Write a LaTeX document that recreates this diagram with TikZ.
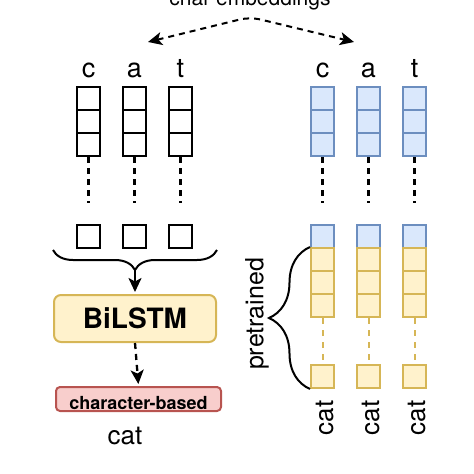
\documentclass[tikz,border=0pt]{standalone}
\usepackage{fontspec}
\setmainfont{TeX Gyre Heros}
\usetikzlibrary{arrows.meta,decorations.pathreplacing}

\definecolor{embFill}{HTML}{DAE8FC}
\definecolor{embLine}{HTML}{6C8EBF}
\definecolor{preFill}{HTML}{FFF2CC}
\definecolor{preLine}{HTML}{D6B656}
\definecolor{outFill}{HTML}{F8CECC}
\definecolor{outLine}{HTML}{B85450}
\newcommand{\pxfont}[1]{\fontsize{#1}{#1}\selectfont}

\begin{document}
\begin{tikzpicture}[x=1pt,y=-1pt,>={Stealth[length=14pt,width=13pt,inset=3.5pt]},
                    cell/.style={draw,minimum size=23pt,inner sep=0pt,line width=2.3pt},
                    emb cell/.style={cell,draw=embLine,fill=embFill,line width=2pt},
                    pre cell/.style={cell,draw=preLine,fill=preFill,line width=2pt},
                    letter/.style={anchor=base,font=\pxfont{27}},
                    dash line/.style={line width=2.3pt,dash pattern=on 6pt off 5pt},
                    curly/.style={decorate,line width=2pt,decoration={brace,amplitude=#1}}]
  \useasboundingbox (0,0) rectangle (474,474);
  \node[anchor=base,font=\pxfont{21}] (title) at (250,5) {char embeddings};
  \coordinate (peak) at (250,17);
  \coordinate (embL) at (148,42);
  \coordinate (embR) at (354,42);
  \draw[<->,line width=2pt,dash pattern=on 6pt off 5pt,rounded corners=10pt]
    (embL) -- (peak) -- (embR);
  % character based side
  \foreach \col/\x/\ch in {1/88.5/c,2/134.5/a,3/180.5/t}{
    \node[letter] (lchar\col) at (\x,77) {\ch};
    \foreach \row/\y in {1/98.5,2/121.5,3/144.5}
      \node[cell] (l\col-\row) at (\x,\y) {};
    \node[cell] (lbot\col) at (\x,236.5) {};
    \draw[dash line,shorten >=21pt] (l\col-3.south) -- (lbot\col.north);
  }
  \draw[curly=20pt,decoration={mirror}] (53,250) -- (217,250);
  \coordinate (braceTip) at (135,269);
  \node[draw=preLine,fill=preFill,rounded corners=7pt,line width=2pt,
        minimum width=162pt,minimum height=47pt,font=\pxfont{28}\bfseries] (bilstm) at (135,318.5) {BiLSTM};
  \node[draw=outLine,fill=outFill,rounded corners=4pt,line width=2pt,inner sep=0pt,
        minimum width=165pt,minimum height=24pt,text height=21pt,text depth=0pt,
        font=\pxfont{18}\bfseries] (charbased) at (138.5,399) {character-based};
  \draw[->,line width=2.3pt,shorten >=2pt] (braceTip) -- (bilstm.north);
  \draw[->,dash line,shorten >=2pt] (bilstm.south) -- (charbased.north);
  \node[font=\pxfont{26}] (catL) at (125,436) {cat};
  \node[anchor=base,font=\pxfont{22}] (dotsL) at (107,477) {...};
  % pretrained side
  \foreach \col/\x/\ch in {1/322.5/c,2/368.5/a,3/414.5/t}{
    \node[letter] (rchar\col) at (\x,77) {\ch};
    \foreach \row/\y in {1/98.5,2/121.5,3/144.5}
      \node[emb cell] (r\col-\row) at (\x,\y) {};
    \node[emb cell] (rmid\col) at (\x,236.5) {};
    \foreach \row/\y in {1/259.5,2/282.5,3/305.5}
      \node[pre cell] (rp\col-\row) at (\x,\y) {};
    \node[pre cell] (rbot\col) at (\x,376.5) {};
    \draw[dash line,shorten >=21pt] (r\col-3.south) -- (rmid\col.north);
    \draw[line width=2pt,draw=preLine,dash pattern=on 6pt off 6pt] (rp\col-3.south) -- (rbot\col.north);
    \node[rotate=90,font=\pxfont{26}] (rcat\col) at (\x+3,418) {cat};
  }
  \draw[curly=41pt] (rbot1.south west) -- (rp1-1.north west);
  \node[rotate=90,font=\pxfont{25}] (pretrained) at (257,314) {pretrained};
  \node[anchor=base,font=\pxfont{22}] (dotsR) at (355,477) {....};
\end{tikzpicture}
\end{document}
